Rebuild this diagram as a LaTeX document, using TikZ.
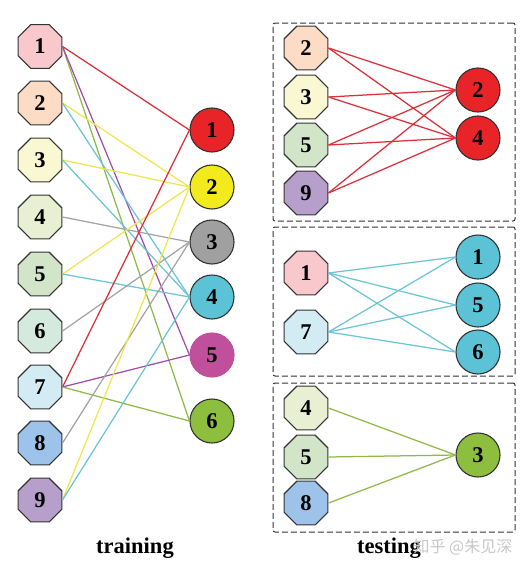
\documentclass[tikz,border=0pt]{standalone}
\usepackage{fontspec}
\setmainfont{Liberation Serif}
\newfontfamily\cjkfont{Noto Sans CJK SC}
\usetikzlibrary{shapes.geometric}
\definecolor{oc1}{HTML}{F8C8CC}
\definecolor{oc2}{HTML}{FCDCC4}
\definecolor{oc3}{HTML}{FAF8D2}
\definecolor{oc4}{HTML}{E8EFD2}
\definecolor{oc5}{HTML}{D3E5C8}
\definecolor{oc6}{HTML}{D5EADF}
\definecolor{oc7}{HTML}{D3ECF4}
\definecolor{oc8}{HTML}{9DC3EA}
\definecolor{oc9}{HTML}{B79FCB}
\definecolor{cred}{HTML}{E82428}
\definecolor{cyel}{HTML}{F3EA1E}
\definecolor{cgray}{HTML}{A0A0A0}
\definecolor{ccyan}{HTML}{5CC3D7}
\definecolor{cmag}{HTML}{C0509C}
\definecolor{cgreen}{HTML}{8DBE3E}
\definecolor{ered}{HTML}{D9303A}
\definecolor{eyel}{HTML}{EEE64C}
\definecolor{egray}{HTML}{A4A4A4}
\definecolor{ecyan}{HTML}{6CC4D4}
\definecolor{epur}{HTML}{A04FA8}
\definecolor{egreen}{HTML}{8FBA4A}
\definecolor{bord}{HTML}{333333}
\tikzset{
  oct/.style={regular polygon, regular polygon sides=8, minimum size=47.5pt,
    inner sep=0pt, draw=bord, line width=1.1pt, fill=#1,
    font=\fontsize{22.5}{22.5}\selectfont\bfseries},
  circ/.style={circle, minimum size=44pt, inner sep=0pt, draw=bord,
    line width=1.1pt, fill=#1, font=\fontsize{22.5}{22.5}\selectfont\bfseries},
  edge/.style={draw=#1, line width=1.25pt},
  groupbox/.style={draw=bord, line width=1pt, dash pattern=on 6pt off 3pt,
    rounded corners=2pt},
  caption/.style={font=\fontsize{22.5}{22.5}\selectfont\bfseries}
}
\begin{document}
\begin{tikzpicture}[x=1pt,y=-1pt]
\useasboundingbox (0,0) rectangle (522,570);
% training edges first (drawn beneath nodes via coordinates later)
% training left
\node[oct=oc1] (L1) at (40,46.5) {1};
\node[oct=oc2] (L2) at (40,103) {2};
\node[oct=oc3] (L3) at (40,160) {3};
\node[oct=oc4] (L4) at (40,217) {4};
\node[oct=oc5] (L5) at (40,274) {5};
\node[oct=oc6] (L6) at (40,331) {6};
\node[oct=oc7] (L7) at (40,387) {7};
\node[oct=oc8] (L8) at (40,443) {8};
\node[oct=oc9] (L9) at (40,500) {9};
% training right
\node[circ=cred] (R1) at (212,130) {1};
\node[circ=cyel] (R2) at (212,187) {2};
\node[circ=cgray] (R3) at (212,242) {3};
\node[circ=ccyan] (R4) at (212,297) {4};
\node[circ=cmag, draw=cmag] (R5) at (212,355) {5};
\node[circ=cgreen] (R6) at (212,421) {6};
% training edges
\draw[edge=ered] (L1.east) -- (R1.west);
\draw[edge=egreen] (L1.east) -- (R6.west);
\draw[edge=epur] (L1.east) -- (R5.west);
\draw[edge=eyel] (L2.east) -- (R2.west);
\draw[edge=ecyan] (L2.east) -- (R4.west);
\draw[edge=eyel] (L3.east) -- (R2.west);
\draw[edge=ecyan] (L3.east) -- (R4.west);
\draw[edge=egray] (L4.east) -- (R3.west);
\draw[edge=eyel] (L5.east) -- (R2.west);
\draw[edge=ecyan] (L5.east) -- (R4.west);
\draw[edge=egray] (L6.east) -- (R3.west);
\draw[edge=ered] (L7.east) -- (R1.west);
\draw[edge=epur] (L7.east) -- (R5.west);
\draw[edge=egreen] (L7.east) -- (R6.west);
\draw[edge=egray] (L8.east) -- (R3.west);
\draw[edge=eyel] (L9.east) -- (R2.west);
\draw[edge=ecyan] (L9.east) -- (R4.west);
\node[caption] (ttrain) at (135,548) {training};
% testing boxes
\node[groupbox, minimum width=242pt, minimum height=198pt, inner sep=0pt] (B1) at (394,122) {};
\node[groupbox, minimum width=242pt, minimum height=149pt, inner sep=0pt] (B2) at (394,301.5) {};
\node[groupbox, minimum width=242pt, minimum height=149pt, inner sep=0pt] (B3) at (394,457.5) {};
% box 1
\node[oct=oc2] (A2) at (306,48) {2};
\node[oct=oc3] (A3) at (306,97) {3};
\node[oct=oc5] (A5) at (306,145) {5};
\node[oct=oc9] (A9) at (306,193) {9};
\node[circ=cred] (P2) at (478,90) {2};
\node[circ=cred] (P4) at (478,138) {4};
\foreach \a in {A2,A3,A5,A9}{
  \draw[edge=ered] (\a.east) -- (P2.west);
  \draw[edge=ered] (\a.east) -- (P4.west);
}
% box 2
\node[oct=oc1] (C1) at (306,273) {1};
\node[oct=oc7] (C7) at (306,332) {7};
\node[circ=ccyan] (Q1) at (478,257) {1};
\node[circ=ccyan] (Q5) at (478,305) {5};
\node[circ=ccyan] (Q6) at (478,352) {6};
\foreach \a in {C1,C7}{
  \foreach \b in {Q1,Q5,Q6}{
    \draw[edge=ecyan] (\a.east) -- (\b.west);
  }
}
% box 3
\node[oct=oc4] (D4) at (306,408) {4};
\node[oct=oc5] (D5) at (306,457) {5};
\node[oct=oc8] (D8) at (306,503) {8};
\node[circ=cgreen] (S3) at (478,455) {3};
\foreach \a in {D4,D5,D8}{
  \draw[edge=egreen] (\a.east) -- (S3.west);
}
\node[caption] (ttest) at (389,548) {testing};
\node[text=black!22, font=\cjkfont\fontsize{16}{16}\selectfont, anchor=west] (wm) at (410,547) {知乎 @朱见深};
\end{tikzpicture}
\end{document}
